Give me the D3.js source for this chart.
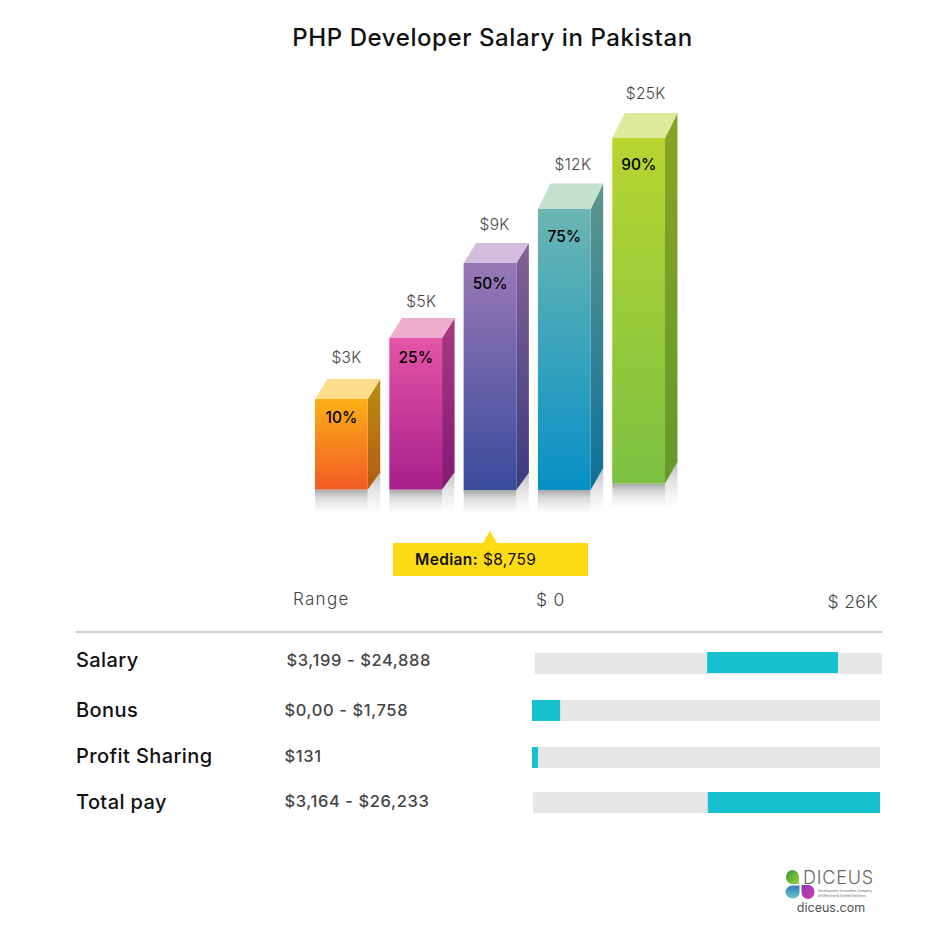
<!DOCTYPE html>
<html>
<head>
<meta charset="utf-8">
<script src="https://d3js.org/d3.v7.min.js"></script>
<style>
  body { margin: 0; background: #fff; }
  svg { display: block; }
  text { font-family: Inter, 'Noto Sans', sans-serif; }
</style>
</head>
<body>
<div class="canvas"></div>
<script>
// chart values
const percentiles = ['10%', '25%', '50%', '75%', '90%'];
const salaryK = [3, 5, 9, 12, 25];
const salaryLabels = ['$3K', '$5K', '$9K', '$12K', '$25K'];
const medianName = 'Median:';
const medianValue = '$8,759';

const rows = ['Salary', 'Bonus', 'Profit Sharing', 'Total pay'];
const rangeLabels = ['$3,199 - $24,888', '$0,00 - $1,758', '$131', '$3,164 - $26,233'];
// filled part of each track, as drawn in the picture (not to the printed range)
const rangeStart = [12900, 0, 0, 13100];
const rangeEnd = [22700, 2100, 450, 26000];
const axisLabels = ['$ 0', '$ 26K'];

// bar look
const frontColors = [
  ['#fbb016', '#f15a24'],
  ['#e455a6', '#a81f8c'],
  ['#9878b6', '#3a4b9c'],
  ['#6cb6b2', '#0790c6'],
  ['#b8d530', '#7cc142']
];
const sideColors = [
  ['#b98f12', '#b35a14'],
  ['#a83a80', '#821a74'],
  ['#846295', '#3a3a80'],
  ['#5f968c', '#0f6f9a'],
  ['#88a524', '#65982c']
];
const topColors = ['#fddc8c', '#efadd0', '#d2bddc', '#c6e0d0', '#dde99b'];

const width = 933;
const height = 929;

const svg = d3
  .select('.canvas')
  .append('svg')
  .attr('width', width)
  .attr('height', height);

const defs = svg.append('defs');

const addGradient = (id, stops, x2 = 0, y2 = 1) => {
  const grad = defs
    .append('linearGradient')
    .attr('id', id)
    .attr('x1', 0)
    .attr('y1', 0)
    .attr('x2', x2)
    .attr('y2', y2);
  stops.forEach((c, i) => {
    grad
      .append('stop')
      .attr('offset', i / (stops.length - 1))
      .attr('stop-color', c);
  });
};

frontColors.forEach((c, i) => addGradient(`front${i}`, c));
sideColors.forEach((c, i) => addGradient(`side${i}`, c));
addGradient('shadow', ['#a8a8a8', '#dadada', '#efefef', '#ffffff']);
addGradient('shadowSide', ['#bcbcbc', '#dedede', '#f1f1f1', '#ffffff']);
addGradient('leafGreen', ['#9ccf3f', '#2e9a3a'], 1, 1);
addGradient('leafBlue', ['#2f7fb8', '#6cc5c5'], 1, 0);
addGradient('leafPurple', ['#8a3ab9', '#d83aa8'], 1, 1);

const label = (parent, str, x, y, size, weight, fill, anchor = 'start') =>
  parent
    .append('text')
    .attr('x', x)
    .attr('y', y)
    .attr('font-size', size)
    .attr('font-weight', weight)
    .attr('fill', fill)
    .attr('text-anchor', anchor)
    .text(str);

label(svg, 'PHP Developer Salary in Pakistan', 492.5, 46, 24, 500, '#111', 'middle')
  .attr('letter-spacing', 0.58);

// bars: the heights in the picture are not proportional, so the scale is piecewise
const x = d3
  .scaleBand()
  .domain(percentiles)
  .range([315, 665])
  .paddingInner(0.29)
  .paddingOuter(0);

const y = d3
  .scaleLinear()
  .domain(salaryK)
  .range([399, 338, 263, 209, 138]);

const bases = [489.5, 489.5, 490, 490, 483.5];
const depthX = 12.5;
const depthY = [20, 20, 20, 25.5, 25];
const labelGap = [16.5, 11.5, 13.5, 14, 14.5];
const labelShift = [31.5, 32, 31, 35, 33.5];
const pctGap = [24, 24.5, 25.5, 33, 31.5];

const bars = salaryK.map((v, i) => ({
  v,
  i,
  pct: percentiles[i],
  left: x(percentiles[i]),
  right: x(percentiles[i]) + x.bandwidth(),
  top: y(v),
  base: bases[i],
  dy: depthY[i]
}));

const chart = svg.append('g').attr('class', 'bars');

const points = arr => arr.map(p => p.join(',')).join(' ');

// floor reflection
chart
  .selectAll('.shadow-front')
  .data(bars)
  .enter()
  .append('rect')
  .attr('x', d => d.left)
  .attr('y', d => d.base)
  .attr('width', x.bandwidth())
  .attr('height', 24)
  .attr('fill', 'url(#shadow)');

chart
  .selectAll('.shadow-side')
  .data(bars)
  .enter()
  .append('polygon')
  .attr('points', d =>
    points([
      [d.right, d.base],
      [d.right + depthX, d.base - d.dy * 0.86],
      [d.right + depthX, d.base + 22],
      [d.right, d.base + 24]
    ])
  )
  .attr('fill', 'url(#shadowSide)');

// side, top and front faces
chart
  .selectAll('.side')
  .data(bars)
  .enter()
  .append('polygon')
  .attr('class', 'side')
  .attr('points', d =>
    points([
      [d.right, d.top],
      [d.right + depthX, d.top - d.dy],
      [d.right + depthX, d.base - d.dy * 0.86],
      [d.right, d.base]
    ])
  )
  .attr('fill', d => `url(#side${d.i})`);

chart
  .selectAll('.top')
  .data(bars)
  .enter()
  .append('polygon')
  .attr('class', 'top')
  .attr('points', d =>
    points([
      [d.left, d.top],
      [d.left + depthX, d.top - d.dy],
      [d.right + depthX, d.top - d.dy],
      [d.right, d.top]
    ])
  )
  .attr('fill', d => topColors[d.i]);

chart
  .selectAll('.front')
  .data(bars)
  .enter()
  .append('rect')
  .attr('class', 'front')
  .attr('x', d => d.left)
  .attr('y', d => d.top)
  .attr('width', x.bandwidth())
  .attr('height', d => d.base - d.top)
  .attr('fill', d => `url(#front${d.i})`);

bars.forEach(d => {
  label(chart, d.pct, d.left + 26.5, d.top + pctGap[d.i], 15.5, 500, '#000', 'middle');
  label(
    chart,
    salaryLabels[d.i],
    d.left + labelShift[d.i],
    d.top - d.dy - labelGap[d.i],
    15.5,
    300,
    '#444',
    'middle'
  ).attr('letter-spacing', 0.3);
});

// median callout
const medianX = x('50%') + x.bandwidth() / 2;
svg
  .append('rect')
  .attr('x', 393)
  .attr('y', 543)
  .attr('width', 195)
  .attr('height', 33)
  .attr('fill', '#fddb14');
svg
  .append('polygon')
  .attr('points', points([[medianX - 7, 543], [medianX, 531], [medianX + 7, 543]]))
  .attr('fill', '#fddb14');
const medianText = label(svg, medianName, 415, 565, 15.5, 600, '#111')
  .attr('letter-spacing', 0.35);
medianText
  .append('tspan')
  .attr('dx', 5)
  .attr('font-weight', 400)
  .text(medianValue);

// table
label(svg, 'Range', 293, 605, 17, 300, '#444').attr('letter-spacing', 1.3);
label(svg, axisLabels[0], 536, 606, 17.5, 300, '#444').attr('letter-spacing', 0.8);
label(svg, axisLabels[1], 878, 608, 17.5, 300, '#444', 'end').attr('letter-spacing', 0.4);

svg
  .append('line')
  .attr('x1', 76)
  .attr('x2', 882)
  .attr('y1', 632)
  .attr('y2', 632)
  .attr('stroke', '#cccccc')
  .attr('stroke-width', 2);

const rowBaseline = [667, 717, 763, 808.5];
const rangeBaseline = [665.5, 715.5, 762, 807];
const rangeX = [286.5, 284.5, 284.5, 284.5];
const trackX = [535, 532, 532, 533];
const trackEnd = [882, 880, 880, 880];
const trackY = [653, 700, 747, 792];
const fillShift = [-1, 0, 0, 0];
const barH = 21;

rows.forEach((name, i) => {
  const scaleX = d3.scaleLinear().domain([0, 26000]).range([0, trackEnd[i] - trackX[i]]);

  label(svg, name, 76, rowBaseline[i], 20, 500, '#111').attr('letter-spacing', 0.4);
  label(svg, rangeLabels[i], rangeX[i], rangeBaseline[i], 16.5, 500, '#444').attr('letter-spacing', 0.6);

  const row = svg.append('g').attr('transform', `translate(${trackX[i]}, ${trackY[i]})`);
  row
    .append('rect')
    .attr('width', scaleX.range()[1])
    .attr('height', barH)
    .attr('fill', '#e6e6e6');
  row
    .append('rect')
    .attr('x', scaleX(rangeStart[i]))
    .attr('y', fillShift[i])
    .attr('width', scaleX(rangeEnd[i]) - scaleX(rangeStart[i]))
    .attr('height', barH)
    .attr('fill', '#17c0cf');
});

// logo
const logo = svg.append('g').attr('class', 'logo');
const leaf = (cx, cy, rot, color) =>
  logo
    .append('path')
    .attr('d', 'M-6.5,-7 L1,-7 A6,7 0 0 1 6.5,0 A6.5,7 0 0 1 0,7 A6.5,7 0 0 1 -6.5,0 Z')
    .attr('transform', `translate(${cx}, ${cy}) rotate(${rot})`)
    .attr('fill', color);
leaf(792.5, 877, 180, 'url(#leafGreen)');
leaf(792.5, 892, 90, 'url(#leafBlue)');
leaf(808, 892, 0, 'url(#leafPurple)');
label(logo, 'DICEUS', 803, 884, 18, 300, '#666').attr('letter-spacing', 0.8);
label(logo, 'Development-Innovation Company', 818, 892.2, 3.3, 400, '#666');
label(logo, 'of Effective & Unified Solutions', 818, 896.5, 3.3, 400, '#666');
label(logo, 'diceus.com', 831, 912, 12.5, 400, '#555', 'middle');
</script>
</body>
</html>
